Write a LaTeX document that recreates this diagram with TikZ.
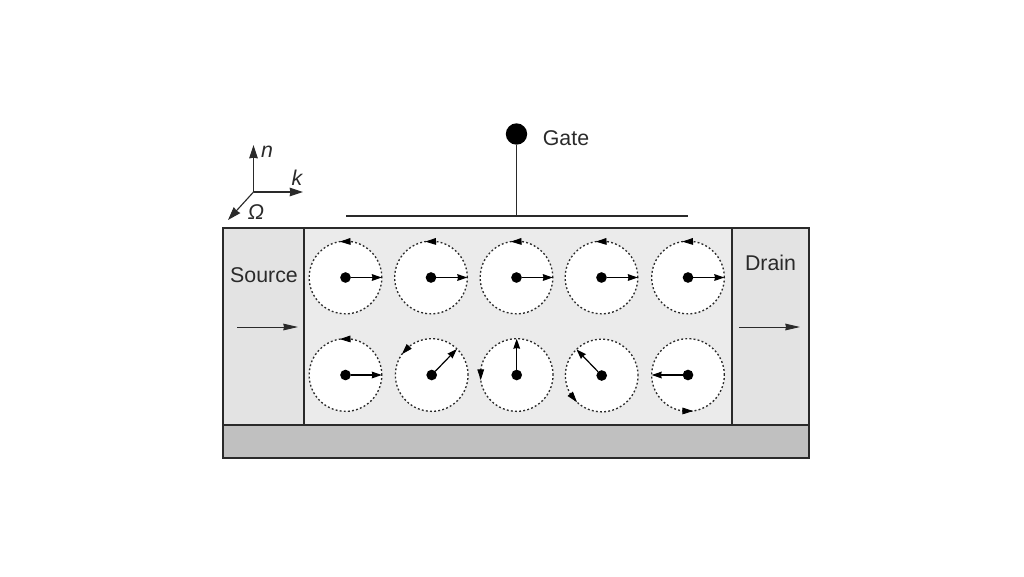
\documentclass[tikz,border=0pt]{standalone}
\usepackage{fontspec}
\setmainfont{Liberation Sans}
\usetikzlibrary{arrows.meta}
\definecolor{ink}{HTML}{2A2A2A}
\definecolor{sidefill}{HTML}{E3E3E3}
\definecolor{chanfill}{HTML}{EBEBEB}
\definecolor{basefill}{HTML}{C0C0C0}
\tikzset{
  x=0.75pt,y=-0.75pt,
  region/.style={draw=ink,line width=0.85pt},
  lab/.style={inner sep=0,font=\fontsize{16}{18}\selectfont,text=ink},
  ital/.style={inner sep=0,font=\fontsize{16}{18}\selectfont\itshape,text=ink},
  rotor/.style={circle,draw=ink,fill=white,dash pattern=on 1.4pt off 1.7pt,line width=1pt,minimum size=54.5pt,inner sep=0,outer sep=0},
  hub/.style={circle,fill=black,minimum size=8pt,inner sep=0,outer sep=0},
  hand/.style={draw=black,line width=0.9pt,-{Stealth[length=7.5pt,width=5pt,inset=0.5pt]}},
  tick/.style={draw=black,line width=0.6pt,-{Stealth[length=8pt,width=5pt,inset=0pt]}},
  axis/.style={draw=ink,line width=0.85pt,-{Stealth[length=10pt,width=6.5pt,inset=0.5pt]}},
  flow/.style={draw=ink,line width=0.7pt,-{Stealth[length=11pt,width=5pt,inset=0.5pt]}},
  wire/.style={draw=ink,line width=0.8pt}
}
\begin{document}
\begin{tikzpicture}
\useasboundingbox (0,0) rectangle (1024,576);
% regions
\filldraw[region,fill=sidefill] (223,228) rectangle (304,425);
\filldraw[region,fill=chanfill] (304,228) rectangle (732,425);
\filldraw[region,fill=sidefill] (732,228) rectangle (809,425);
\filldraw[region,fill=basefill] (223,425) rectangle (809,458);
% gate
\node[circle,fill=black,minimum size=16pt,inner sep=0,outer sep=0] (gatepin) at (516.5,134) {};
\coordinate (gl) at (346,216);
\coordinate (gr) at (688,216);
\coordinate (gm) at (516.5,216);
\draw[wire] (gl) -- (gr);
\draw[wire] (gatepin) -- (gm);
\node[lab] (gatelab) at (566,138) {Gate};
% labels
\node[lab] (source) at (264,275) {Source};
\node[lab] (drain) at (770.5,263) {Drain};
% flow
\coordinate (s1) at (237,327); \coordinate (s2) at (298,327);
\coordinate (d1) at (739,327); \coordinate (d2) at (800,327);
\draw[flow] (s1) -- (s2);
\draw[flow] (d1) -- (d2);
% axes
\coordinate (o) at (253.5,192);
\coordinate (an) at (253.5,145);
\coordinate (ak) at (303,192);
\coordinate (aw) at (228,220);
\draw[axis] (o) -- (an);
\draw[axis] (o) -- (ak);
\draw[axis] (o) -- (aw);
\node[ital] (ln) at (267,152) {n};
\node[ital] (lk) at (297,178) {k};
\node[ital] (lw) at (256,212) {Ω};
% rotors: name / x / y / hand angle / tick angle
\foreach \n/\x/\y/\h/\t in {
  a/345.5/277.5/0/91, b/431/277.5/0/91, c/516.5/277.5/0/91, d/601.5/277.5/0/91, e/688/277.5/0/91,
  f/345.5/375/0/91, g/431.7/375/46/137, h/516.7/375/90/180, i/601.7/375.5/134/219, j/688/375/180/270}{
  \node[rotor] (r\n) at (\x,\y) {};
  \node[hub] (h\n) at (\x,\y) {};
  \draw[hand] (h\n) -- (r\n.\h);
  \pgfmathsetmacro{\ta}{\t-8}
  \pgfmathsetmacro{\tb}{\t+8}
  \draw[tick] (r\n.\ta) -- (r\n.\tb);
}
\end{tikzpicture}
\end{document}
